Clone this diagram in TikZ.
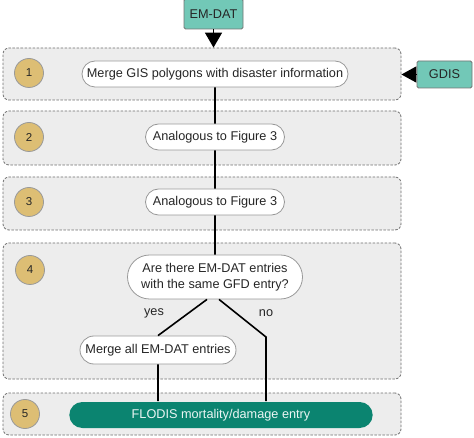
\documentclass[tikz,border=0pt]{standalone}
\usepackage{fontspec}
\setmainfont{Liberation Sans}
\usetikzlibrary{arrows.meta,shapes.misc}
\definecolor{panelgray}{HTML}{EDEDED}
\definecolor{dashgray}{HTML}{6E6E6E}
\definecolor{numgold}{HTML}{DDBE74}
\definecolor{lightteal}{HTML}{72C8B7}
\definecolor{darkteal}{HTML}{0B8470}
\begin{document}
\begin{tikzpicture}[x=1pt,y=-1pt,line width=1.6pt,
    every node/.style={font=\fontsize{12.7}{15.5}\selectfont,text=black!85},
    panel/.style={draw=dashgray,fill=panelgray,line width=0.8pt,dash pattern=on 2.5pt off 1.5pt,rounded corners=6pt,minimum width=398pt,inner sep=0pt},
    num node/.style={circle,draw=black!40,fill=numgold,line width=0.8pt,minimum size=29pt,inner sep=0pt,font=\fontsize{11.5}{13}\selectfont},
    step box/.style={rounded rectangle,draw=black!40,fill=white,line width=0.8pt,minimum height=26pt,inner sep=2pt},
    data box/.style={draw=black!55,fill=lightteal,line width=0.8pt,rounded corners=1.5pt,inner sep=0pt}]
                \useasboundingbox (0,0) rectangle (474,438);
                \node[panel,minimum height=52pt] at (202, 74) (p1) {};
                \node[panel,minimum height=54pt] at (202, 138) (p2) {};
                \node[panel,minimum height=53pt] at (202, 203.5) (p3) {};
                \node[panel,minimum height=136pt] at (202, 311) (p4) {};
                \node[panel,minimum height=42pt] at (202, 414) (p5) {};

                \node[num node] at (29, 73) (c1) {1};
                \node[num node] at (29, 137) (c2) {2};
                \node[num node] at (29, 202) (c3) {3};
                \node[num node] at (30, 270) (c4) {4};
                \node[num node] at (25, 414) (c5) {5};

                \node[data box,minimum width=59pt,minimum height=30pt] at (213.5, 14) (emdat) {EM-DAT};
                \node[data box,minimum width=55pt,minimum height=27pt] at (444.5, 74.5) (gdis) {GDIS};

                \node[step box,minimum width=270pt] at (215, 74) (merge gis) {Merge GIS polygons with disaster information};
                \node[step box,minimum width=143pt] at (215, 137) (analog a) {Analogous to Figure 3};
                \node[step box,minimum width=143pt] at (215, 202) (analog b) {Analogous to Figure 3};
                \node[step box,minimum width=179pt,minimum height=44pt,align=center] at (215, 277) (same gfd) {Are there EM-DAT entries\\with the same GFD entry?};
                \node[step box,minimum width=160pt,minimum height=28pt] at (158, 350) (merge all) {Merge all EM-DAT entries};
                \node[rounded rectangle,fill=darkteal,minimum width=310pt,minimum height=26pt,text=white!92!darkteal] at (221, 415) (flodis) {FLODIS mortality/damage entry};

                \node[] at (154, 313) (yes) {yes};
                \node[] at (266, 313) (no) {no};
                \coordinate (no bend) at (266, 337);

                \path[-{Triangle[width=17pt,length=15pt]}] (emdat) edge[] (emdat |- p1.north);
                \path[-{Triangle[width=16pt,length=15pt]}] (gdis) edge[] (gdis -| p1.east);

                \path[]
                    (merge gis) edge (analog a)
                    (analog a) edge (analog b)
                    (analog b) edge (same gfd)
                    ([xshift=-8pt]same gfd.south) edge (merge all.north)
                    (merge all) edge (merge all |- flodis.north)
                    ;
                \draw ([xshift=4pt]same gfd.south) -- (no bend) -- (no bend |- flodis.north);
            \end{tikzpicture}
\end{document}
